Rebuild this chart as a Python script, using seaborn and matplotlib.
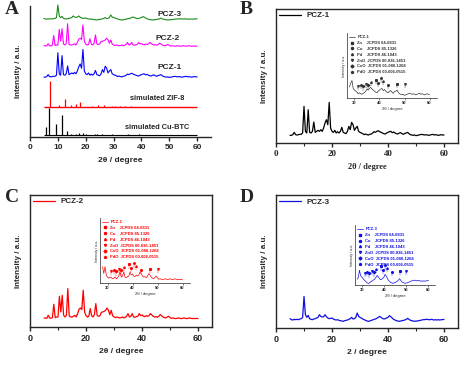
import numpy as np
import matplotlib
matplotlib.use("Agg")
import matplotlib.pyplot as plt
from matplotlib.lines import Line2D
import seaborn as sns

# 2theta grid of the patterns (degree), read every 0.5 degree
TWO_THETA = np.arange(5, 60.01, 0.5)

PCZ1 = [3, 3, 5, 12, 5, 4, 5, 6, 6, 10,
        90, 15, 10, 80, 12, 10, 15, 43, 12, 15,
        18, 15, 20, 15, 25, 40, 50, 35, 102, 25,
        15, 12, 18, 10, 14, 10, 15, 27, 12, 10,
        8, 15, 30, 20, 42, 35, 18, 25, 30, 15,
        12, 10, 8, 5, 7, 5, 4, 6, 7, 10,
        14, 12, 15, 17, 14, 12, 10, 8, 7, 10,
        12, 14, 15, 11, 13, 10, 8, 7, 10, 11,
        8, 6, 9, 10, 12, 8, 5, 4, 3, 4,
        2, 3, 4, 5, 6, 5, 4, 5, 4, 3,
        4, 5, 6, 4, 5, 4, 3, 4, 5, 4,
        4]

PCZ2 = [5, 5, 4, 13, 5, 4, 6, 46, 6, 8,
        8, 70, 23, 73, 13, 8, 13, 93, 11, 8,
        8, 10, 13, 8, 18, 31, 35, 30, 88, 23,
        12, 8, 10, 33, 12, 8, 15, 48, 12, 10,
        12, 22, 23, 25, 28, 35, 28, 15, 28, 12,
        8, 6, 8, 7, 5, 6, 8, 5, 7, 10,
        18, 8, 10, 18, 8, 7, 9, 10, 18, 12,
        14, 10, 9, 12, 10, 12, 18, 14, 10, 8,
        9, 7, 10, 15, 12, 8, 6, 5, 8, 10,
        6, 4, 5, 4, 3, 4, 5, 4, 3, 4,
        5, 4, 3, 4, 5, 4, 3, 4, 3, 4,
        3]

PCZ3 = [8, 5, 4, 6, 5, 6, 5, 7, 8, 12,
        75, 20, 12, 18, 8, 6, 5, 7, 8, 10,
        12, 20, 15, 13, 14, 20, 14, 10, 8, 9,
        10, 7, 5, 4, 5, 3, 2, 1, 0, 2,
        3, 4, 6, 8, 12, 7, 8, 12, 25, 15,
        12, 10, 7, 5, 3, 1, 0, 1, 3, 4,
        6, 7, 9, 12, 15, 12, 9, 7, 8, 10,
        12, 17, 14, 10, 6, 4, 2, 1, 0, 1,
        2, 3, 4, 6, 9, 6, 3, 2, 1, 0,
        1, 1, 2, 3, 4, 5, 5, 6, 6, 5,
        5, 6, 5, 4, 5, 4, 5, 4, 5, 5,
        6]

# simulated stick patterns
ZIF8_POS = [7.3, 10.4, 12.7, 14.7, 16.4, 18.0, 22.1, 24.5, 26.7, 29.6, 30.6, 32.4, 34.0, 36.1, 40.0]
ZIF8_INT = [26, 2, 8, 2, 2.5, 5, 1, 1.5, 1.5, 1.2, 0.8, 0.8, 0.6, 0.5, 0.4]
CUBTC_POS = [5.8, 6.7, 9.5, 11.6, 13.4, 14.7, 16.5, 17.5, 19.0, 20.2, 23.4, 24.1, 26.0, 29.3, 35.2, 39.1]
CUBTC_INT = [8, 27, 11, 20, 4, 1, 1, 2.5, 2, 1, 0.8, 0.8, 1, 1, 0.6, 0.6]

# inset reference phases and marked peaks
PHASES = ["Zn    JCPDS 04-0831", "Cu    JCPDS 85-1326", "Pd    JCPDS 46-1043",
          "ZnO  JCPDS 00-036-1451", "CuO  JCPDS 01-080-1268", "PdO  JCPDS 00-006-0515"]
PHASE_MARKERS = ["s", "o", "^", "v", "D", "p"]
MARK_X = [31.5, 32.5, 33.5, 34.5, 35.5, 36.5, 38.5, 39.5, 40.5, 41.5, 43.5, 47.0, 50.0]
MARK_Y = [18, 20, 17, 22, 19, 26, 30, 24, 32, 28, 20, 22, 22]
MARK_KIND = [3, 5, 4, 3, 4, 2, 0, 1, 5, 2, 1, 0, 3]

SANS = "Liberation Sans"
SERIF = "Liberation Serif"

sns.set_style("ticks")
plt.rcParams["font.family"] = [SANS, "DejaVu Sans"]
plt.rcParams["font.weight"] = "bold"
plt.rcParams["axes.linewidth"] = 1.0

fig = plt.figure(figsize=(4.74, 3.67), dpi=100)


def style_main(ax, box=True, serif=False):
    fam = SERIF if serif else SANS
    ax.set_xlim(0, 65)
    ax.set_yticks([])
    ax.set_xticks([0, 20, 40, 60])
    ax.set_xticks([10, 30, 50], minor=True)
    ax.tick_params(axis="x", which="major", length=3, width=1, labelsize=6.5, pad=2)
    ax.tick_params(axis="x", which="minor", length=2, width=0.8)
    for lab in ax.get_xticklabels():
        lab.set_fontfamily(fam)
        lab.set_fontweight("bold")
    ax.set_xlabel("2θ / degree", fontsize=6, fontweight="bold", family=[fam, "DejaVu Sans"], labelpad=4)
    ax.set_ylabel("Intensity / a.u.", fontsize=5.8, fontweight="bold", labelpad=6)
    if not box:
        sns.despine(ax=ax)


def draw_inset(rect, y, color, name, ylim):
    ins = fig.add_axes(rect)
    keep = TWO_THETA >= 28
    sns.lineplot(x=TWO_THETA[keep], y=np.array(y)[keep], ax=ins, color=color, lw=0.5)
    for mx, my, mk in zip(MARK_X, MARK_Y, MARK_KIND):
        ins.plot([mx, mx], [my - 6, my], color=color, lw=0.3)
        ins.plot(mx, my + 2, marker=PHASE_MARKERS[mk], color=color, ms=1.2, lw=0)
    ins.set_xlim(27, 63)
    ins.set_ylim(*ylim)
    ins.set_xticks([30, 40, 50, 60])
    ins.set_yticks([])
    ins.tick_params(axis="x", labelsize=3, length=1.2, width=0.4, pad=1)
    for sp in ins.spines.values():
        sp.set_linewidth(0.5)
    sns.despine(ax=ins)
    ins.set_xlabel("2θ / degree", fontsize=3, labelpad=1.5, family=[SANS, "DejaVu Sans"])
    ins.set_ylabel("Intensity / a.u.", fontsize=2.5, labelpad=1)
    handles = [Line2D([], [], color=color, lw=0.5)]
    handles += [Line2D([], [], color=color, lw=0, marker=m, ms=1.5) for m in PHASE_MARKERS]
    ins.legend(handles, [name] + PHASES, loc="upper left", fontsize=3, frameon=False,
               handlelength=1.5, handletextpad=0.5, labelspacing=0.45,
               borderaxespad=0.1, labelcolor=color)
    ins.patch.set_alpha(0)
    return ins


# ---------- A : stacked patterns ----------
axA = fig.add_axes([0.0633, 0.6267, 0.382, 0.357])
axA.set_ylim(0, 131)
axA.hlines(2, 5, 60, color="black", lw=0.8)
axA.vlines(CUBTC_POS, 2, 2 + np.array(CUBTC_INT), color="black", lw=0.9)
axA.hlines(30, 5, 60, color="#ff0000", lw=1.0)
axA.vlines(ZIF8_POS, 30, 30 + np.array(ZIF8_INT), color="#ff0000", lw=0.9)
sns.lineplot(x=TWO_THETA, y=np.array(PCZ1) * 0.28 + 59, ax=axA, color="#0000ff", lw=0.8)
sns.lineplot(x=TWO_THETA, y=np.array(PCZ2) * 0.25 + 90, ax=axA, color="#ff00ff", lw=0.8)
sns.lineplot(x=TWO_THETA, y=np.array(PCZ3) * 0.20 + 117, ax=axA, color="#1a8a1a", lw=0.8,
             clip_on=False)
style_main(axA, box=False)
axA.set_xticks(range(0, 61, 10))
axA.set_xticks([], minor=True)
axA.tick_params(axis="x", labelsize=6)
for txt, tx, ty, fs in [("PCZ-3", 50, 122, 6), ("PCZ-2", 49.3, 98, 6), ("PCZ-1", 50, 69, 6),
                        ("simulated ZIF-8", 45.7, 38, 5.3), ("simulated Cu-BTC", 45.7, 9, 5.3)]:
    axA.text(tx, ty, txt, fontsize=fs, fontweight="bold", ha="center", va="center")

# ---------- B : PCZ-1 ----------
legend_kw = dict(loc="upper left", fontsize=5.8, frameon=False, handlelength=2.8,
                 handletextpad=0.6, borderaxespad=0.15, borderpad=0.2)
axB = fig.add_axes([0.5823, 0.6104, 0.384, 0.365])
sns.lineplot(x=TWO_THETA, y=PCZ1, ax=axB, color="black", lw=0.9, label="PCZ-1")
axB.set_ylim(-20, 383)
style_main(axB, serif=True)
axB.legend(**legend_kw)
draw_inset([0.732, 0.733, 0.19, 0.177], PCZ1, "#333333", "PCZ-1", (-3, 120))

# ---------- C : PCZ-2 ----------
axC = fig.add_axes([0.0633, 0.109, 0.384, 0.3597])
sns.lineplot(x=TWO_THETA, y=PCZ2, ax=axC, color="#ff0000", lw=0.9, label="PCZ-2")
axC.set_ylim(-22, 373)
style_main(axC)
axC.legend(**legend_kw)
draw_inset([0.211, 0.229, 0.19, 0.177], PCZ2, "#ff0000", "PCZ-2", (-3, 120))

# ---------- D : PCZ-3 ----------
axD = fig.add_axes([0.5823, 0.1063, 0.384, 0.362])
sns.lineplot(x=TWO_THETA, y=PCZ3, ax=axD, color="#1010e0", lw=0.9, label="PCZ-3")
axD.set_ylim(-20, 380)
style_main(axD)
axD.set_xlabel("2 / degree", fontsize=6, fontweight="bold", labelpad=4)
axD.legend(**legend_kw)
draw_inset([0.749, 0.2234, 0.169, 0.163], PCZ3, "#1010e0", "PCZ-3", (-3, 110))

for letter, lx, ly in [("A", 12, 10), ("B", 246, 10), ("C", 12, 197), ("D", 247, 197)]:
    fig.text(lx / 474, 1 - ly / 367, letter, fontsize=14, fontweight="bold",
             family=[SERIF, "DejaVu Serif"], ha="center", va="center")

fig.savefig("out.png", dpi=100)
